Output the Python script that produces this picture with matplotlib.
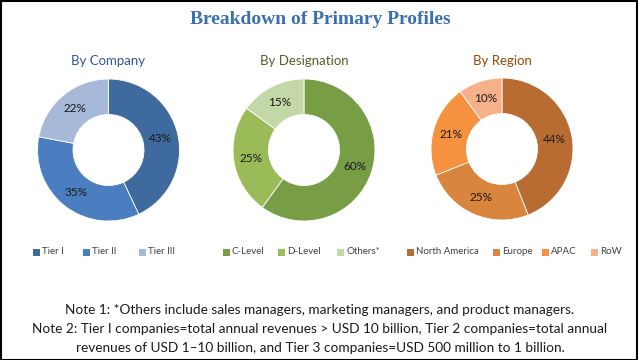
import matplotlib.pyplot as plt
from matplotlib.patches import Rectangle

# data
company_labels = ['Tier I', 'Tier II', 'Tier III']
company_values = [43, 35, 22]
company_colors = ['#3F6A9E', '#4A7EC0', '#A7B9D9']

desig_labels = ['C-Level', 'D-Level', 'Others*']
desig_values = [60, 25, 15]
desig_colors = ['#779D45', '#9BBB59', '#C4D7A7']

region_labels = ['North America', 'Europe', 'APAC', 'RoW']
region_values = [44, 25, 21, 10]
region_colors = ['#B96C31', '#D9853D', '#F6923F', '#F6B18B']

W, H = 638, 360
fig = plt.figure(figsize=(W / 100, H / 100), dpi=100)
fig.patch.set_facecolor('white')

# border
fig.patches.append(Rectangle((0.5 / W, 0.5 / H), 1 - 1.5 / W, 1 - 1.5 / H,
                             transform=fig.transFigure, fill=False,
                             edgecolor='black', linewidth=1.5))

fig.text(320 / W, 1 - 19 / H, 'Breakdown of Primary Profiles', ha='center', va='center',
         fontsize=14, fontweight='bold', family='Liberation Serif', color='#3A70B0')

LEG_Y = 252


def donut(cx, cy, r, values, labels, colors, title, tcolor, legend_xs):
    ax = fig.add_axes([(cx - r) / W, (H - cy - r) / H, 2 * r / W, 2 * r / H])
    ax.pie(values, colors=colors, startangle=90, counterclock=False,
           radius=1, autopct='%d%%', pctdistance=0.75,
           wedgeprops=dict(width=0.5, edgecolor='white', linewidth=0.6),
           textprops=dict(fontsize=8.5, color='#1a1a1a', family='Lato'))
    ax.set_xlim(-1, 1)
    ax.set_ylim(-1, 1)
    ax.axis('off')
    fig.text(cx / W, 1 - 61 / H, title, ha='center', va='center', fontsize=9.5,
             family='Lato', color=tcolor)
    # legend entries
    for lx, lab, col in zip(legend_xs, labels, colors):
        fig.patches.append(Rectangle((lx / W, 1 - (LEG_Y + 3.5) / H), 7 / W, 7 / H,
                                     transform=fig.transFigure, facecolor=col, edgecolor='none'))
        fig.text((lx + 9) / W, 1 - LEG_Y / H, lab, ha='left', va='center', fontsize=7,
                 family='Lato', color='#404040')


donut(108.5, 150, 71, company_values, company_labels, company_colors, 'By Company', '#2F5597',
      [33, 83, 139])
donut(304, 150, 71, desig_values, desig_labels, desig_colors, 'By Designation', '#4F6228',
      [223, 278, 337])
donut(502, 149, 71, region_values, region_labels, region_colors, 'By Region', '#984807',
      [407, 493, 542, 591])

notes = ['Note 1: *Others include sales managers, marketing managers, and product managers.',
         'Note 2: Tier I companies=total annual revenues > USD 10 billion, Tier 2 companies=total annual',
         'revenues of USD 1\u201310 billion, and Tier 3 companies=USD 500 million to 1 billion.']
for i, line in enumerate(notes):
    fig.text(320 / W, 1 - (310 + i * 19) / H, line, ha='center', va='center',
             fontsize=9.8, family='Lato', color='#1a1a1a')

fig.savefig('out.png', dpi=100)
